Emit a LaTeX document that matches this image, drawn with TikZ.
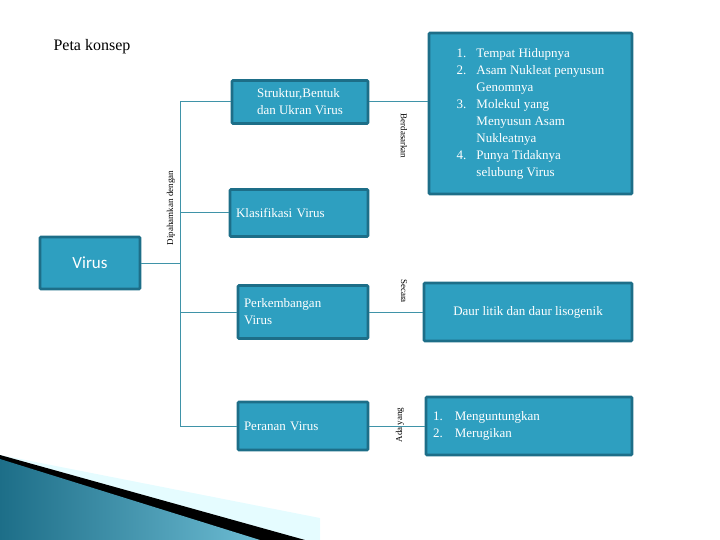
\documentclass[tikz,border=0pt]{standalone}
\usepackage{fontspec}
\setmainfont{Liberation Serif}
\newfontfamily\virusfont{Carlito}
\usepackage{tikz}
\usetikzlibrary{positioning}
\definecolor{boxfill}{HTML}{2E9FC0}
\definecolor{boxline}{HTML}{1D6E88}
\definecolor{wireclr}{HTML}{3F93A8}
\tikzset{concept/.style={rectangle, draw=boxline, fill=boxfill, line width=2.6pt, rounded corners=1pt, text=white, font=\fontsize{13}{17}\selectfont, inner sep=4pt},
  wire/.style={draw=wireclr, line width=1pt},
  rel/.style={font=\fontsize{9}{10}\selectfont, text=black, inner sep=1pt}}

\begin{document}
\begin{tikzpicture}[x=1pt, y=-1pt]
  \useasboundingbox (0,0) rectangle (720,540);
  % bottom decoration
  \fill[blue!10!cyan!10] (0,455) -- (320,518) -- (320,540) -- (0,540) -- cycle;
  \fill[black] (0,455) -- (305,540) -- (0,540) -- cycle;
  \shade[left color=boxline, right color=boxfill!70!white] (0,459) -- (260,540) -- (0,540) -- cycle;

  \node[anchor=west, font=\fontsize{16}{18}\selectfont] (title) at (50,47) {Peta konsep};

  \node[concept, minimum width=100pt, minimum height=52pt, font=\virusfont\fontsize{17}{19}\selectfont] (virus) at (90,263) {Virus};
  \node[concept, minimum width=136pt, minimum height=43pt, align=left] (struktur) at (300,102) {Struktur,Bentuk\\dan Ukran Virus};
  \node[concept, minimum width=138pt, minimum height=47pt, text width=126pt, align=left] (klasifikasi) at (299,213) {Klasifikasi Virus};
  \node[concept, minimum width=130pt, minimum height=53pt, text width=118pt, align=left] (perkembangan) at (303,312) {Perkembangan\\Virus};
  \node[concept, minimum width=130pt, minimum height=48pt, text width=118pt, align=left] (peranan) at (303,426) {Peranan Virus};

  \node[concept, minimum width=203pt, minimum height=161pt, inner sep=2pt] (ciri) at (530.5,113.5) {%
    \begin{tabular}{@{}l@{\hspace{10pt}}l@{}}
      1. & Tempat Hidupnya\\
      2. & Asam Nukleat penyusun\\
         & Genomnya\\
      3. & Molekul yang\\
         & Menyusun Asam\\
         & Nukleatnya\\
      4. & Punya Tidaknya\\
         & selubung Virus
    \end{tabular}};
  \node[concept, minimum width=208pt, minimum height=58pt] (daur) at (528,312) {Daur litik dan daur lisogenik};
  \node[concept, minimum width=206pt, minimum height=58pt, text width=192pt, align=left] (manfaat) at (529,426) {%
    \begin{tabular}{@{}l@{\hspace{12pt}}l@{}}
      1. & Menguntungkan\\
      2. & Merugikan
    \end{tabular}};

  % connectors
  \coordinate (trunk) at (180,263);
  \draw[wire] (virus) -- (trunk);
  \draw[wire] (trunk) |- (struktur);
  \draw[wire] (trunk) |- (klasifikasi);
  \draw[wire] (trunk) |- (perkembangan);
  \draw[wire] (trunk) |- (peranan);
  \draw[wire] (struktur) -- (struktur -| ciri.west);
  \draw[wire] (perkembangan) -- (daur);
  \draw[wire] (peranan) -- (manfaat);

  \node[rel, rotate=90] (dipahamkan) at (171,208) {Dipahamkan dengan};
  \node[rel, rotate=-90] (berdasarkan) at (404,136) {Berdasarkan};
  \node[rel, rotate=-90] (secara) at (404,291) {Secara};
  \node[rel, rotate=90] (adayang) at (400,425) {Ada yang};
\end{tikzpicture}
\end{document}
